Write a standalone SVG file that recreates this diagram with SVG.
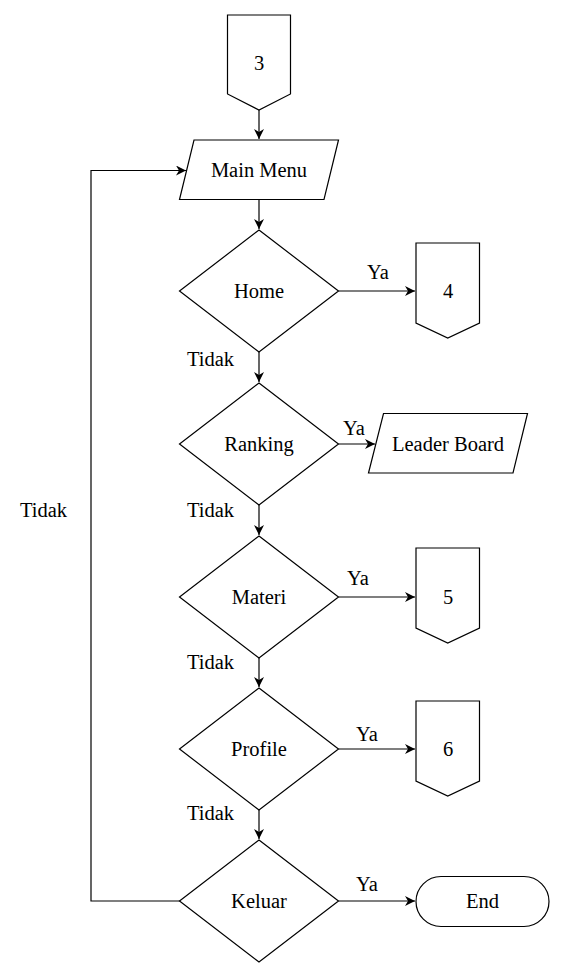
<svg xmlns="http://www.w3.org/2000/svg" width="564" height="978" viewBox="0 0 564 978" font-family="Liberation Serif, Times New Roman, serif" font-size="20.5">
<defs>
<marker id="arr" viewBox="0 0 10 10" refX="10" refY="5" markerWidth="10" markerHeight="10" markerUnits="userSpaceOnUse" orient="auto">
<path d="M0,0 L10,5 L0,10 L3,5 Z" fill="#000"/>
</marker>
</defs>
<style>
.s{fill:#fff;stroke:#000;stroke-width:1.2}
.c{fill:none;stroke:#000;stroke-width:1.2;marker-end:url(#arr)}
.m{text-anchor:middle}
</style>
<rect width="564" height="978" fill="#fff"/>
<g id="connectors">
<path class="c" d="M259,110 V139"/>
<path class="c" d="M259,199 V229"/>
<path class="c" d="M259,352 V382"/>
<path class="c" d="M259,505 V535"/>
<path class="c" d="M259,658 V687"/>
<path class="c" d="M259,810 V839"/>
<path class="c" d="M338.5,291 H415"/>
<path class="c" d="M338.5,444 H375"/>
<path class="c" d="M338.5,597 H415"/>
<path class="c" d="M338.5,749 H415"/>
<path class="c" d="M338.5,901 H415"/>
<path class="c" d="M180,901 H91 V170.5 H186"/>
<text class="m" x="378" y="279">Ya</text>
<text class="m" x="354" y="435">Ya</text>
<text class="m" x="358" y="585">Ya</text>
<text class="m" x="367" y="741">Ya</text>
<text class="m" x="367" y="891">Ya</text>
<text x="187" y="366">Tidak</text>
<text x="187" y="517">Tidak</text>
<text x="187" y="669">Tidak</text>
<text x="187" y="820">Tidak</text>
<text x="20" y="517">Tidak</text>
</g>
<g id="n3">
<path class="s" d="M227.5,15 H290.5 V94 L259,110 L227.5,94 Z"/>
<text class="m" x="259" y="70">3</text>
</g>
<g id="mainmenu">
<path class="s" d="M194,140 H338.5 L324,199.5 H179.5 Z"/>
<text class="m" x="259" y="177">Main Menu</text>
</g>
<g id="home">
<path class="s" d="M259,230 L338.5,291 L259,352 L179.5,291 Z"/>
<text class="m" x="259" y="298">Home</text>
</g>
<g id="n4">
<path class="s" d="M416,243 H479.5 V323 L447.75,338 L416,323 Z"/>
<text class="m" x="448" y="298">4</text>
</g>
<g id="ranking">
<path class="s" d="M259,383 L338.5,444 L259,505 L179.5,444 Z"/>
<text class="m" x="259" y="451">Ranking</text>
</g>
<g id="leaderboard">
<path class="s" d="M383.5,413.5 H527.5 L513,473 H368.5 Z"/>
<text class="m" x="448" y="451">Leader Board</text>
</g>
<g id="materi">
<path class="s" d="M259,536 L338.5,597 L259,658 L179.5,597 Z"/>
<text class="m" x="259" y="604">Materi</text>
</g>
<g id="n5">
<path class="s" d="M416,548 H479.5 V628 L447.75,643 L416,628 Z"/>
<text class="m" x="448" y="604">5</text>
</g>
<g id="profile">
<path class="s" d="M259,688 L338.5,749 L259,810 L179.5,749 Z"/>
<text class="m" x="259" y="756">Profile</text>
</g>
<g id="n6">
<path class="s" d="M416,701 H479.5 V781 L447.75,796 L416,781 Z"/>
<text class="m" x="448" y="756">6</text>
</g>
<g id="keluar">
<path class="s" d="M259,840 L338.5,901 L259,962 L179.5,901 Z"/>
<text class="m" x="259" y="908">Keluar</text>
</g>
<g id="end">
<rect class="s" x="416" y="876.5" width="133" height="50" rx="25" ry="25"/>
<text class="m" x="482.5" y="908">End</text>
</g>
</svg>
